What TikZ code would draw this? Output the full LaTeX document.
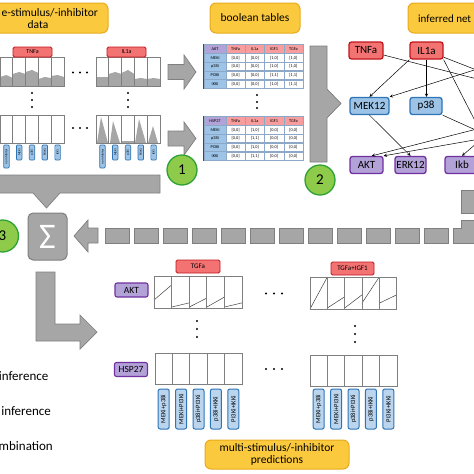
\documentclass[tikz,border=0pt]{standalone}
\usepackage{fontspec}
\setmainfont{Carlito}
\usepackage{tikz}
\usetikzlibrary{positioning,matrix}

\definecolor{yelfill}{HTML}{FBC93D}
\definecolor{yeldraw}{HTML}{E8AA1C}
\definecolor{redfill}{HTML}{F37373}
\definecolor{reddraw}{HTML}{C0161E}
\definecolor{bluefill}{HTML}{9DC3E6}
\definecolor{bluedraw}{HTML}{2E75B6}
\definecolor{purpfill}{HTML}{B3A2D7}
\definecolor{purpdraw}{HTML}{7030A0}
\definecolor{greyfill}{HTML}{A6A6A6}
\definecolor{greydraw}{HTML}{7F7F7F}
\definecolor{greenfill}{HTML}{8FCB4A}
\definecolor{greendraw}{HTML}{2FA236}
\definecolor{tabline}{HTML}{8EA9C8}

\tikzset{
  titlebox/.style={rounded corners=6pt, fill=yelfill, draw=yeldraw, line width=1pt, inner sep=0pt},
  titletext/.style={font=\fontsize{11.5}{12}\selectfont, inner sep=0pt},
  netnode/.style={rounded corners=2.5pt, line width=1.3pt, minimum height=17, inner sep=1pt, font=\fontsize{11}{12}\selectfont},
  netred/.style={netnode, fill=redfill, draw=reddraw},
  netblue/.style={netnode, fill=bluefill, draw=bluedraw},
  netpurp/.style={netnode, fill=purpfill, draw=purpdraw},
  netarrow/.style={->, >=stealth, line width=0.5pt},
  bigarrow/.style={fill=greyfill, draw=greydraw, line width=0.7pt},
  stepnum/.style={circle, fill=greenfill, draw=greendraw, line width=1.3pt, minimum size=30, inner sep=0pt, font=\fontsize{15}{15}\selectfont},
  panel/.style={draw=greydraw, line width=0.8pt},
  stimlabel/.style={rounded corners=1.5pt, fill=redfill, draw=reddraw, line width=0.9pt, minimum height=10, inner sep=0pt, font=\fontsize{6}{6}\selectfont},
  outlabel/.style={rounded corners=2pt, fill=purpfill, draw=purpdraw, line width=1.1pt, minimum height=14, minimum width=33, inner sep=0pt, font=\fontsize{9.5}{10}\selectfont},
  inhlabel/.style={rotate=90, rounded corners=1pt, fill=bluefill, draw=bluedraw, line width=0.7pt, minimum height=5.5, minimum width=15, inner sep=0pt, font=\fontsize{3.2}{3.2}\selectfont},
  combolabel/.style={rotate=90, rounded corners=2pt, fill=bluefill!70, draw=bluedraw, line width=1pt, minimum height=11, minimum width=40, inner sep=0pt, font=\fontsize{6.5}{6.5}\selectfont},
  booltab/.style={matrix of nodes, draw=bluedraw!70!black, line width=0.8pt, inner sep=0pt,
    column sep=-0.4pt, row sep=-0.4pt,
    nodes={draw=tabline, line width=0.4pt, minimum width=19.25, minimum height=8.6, inner sep=0pt, font=\fontsize{4.3}{4.3}\selectfont},
    row 1/.style={nodes={fill=redfill!70}},
    column 1/.style={nodes={fill=bluefill, minimum width=22}},
    row 1 column 1/.style={nodes={fill=purpfill}}},
  legtext/.style={anchor=base east, inner sep=0pt, font=\fontsize{13}{13}\selectfont}
}

\begin{document}
\begin{tikzpicture}[x=1pt, y=-1pt]
\clip (0,0) rectangle (474,474);

% titles
\node[titlebox, minimum width=118, minimum height=30] (dataTitle) at (49,18) {};
\node[titletext, anchor=base west] (dataTitleA) at (1.5,16.5) {e-stimulus/-inhibitor};
\node[titletext, anchor=base] (dataTitleB) at (38,28.5) {data};
\node[titlebox, titletext, minimum width=90, minimum height=30] (boolTitle) at (255,18) {boolean tables};
\node[titlebox, minimum width=92, minimum height=30] (netTitle) at (454,18) {};
\node[titletext, anchor=west, font=\fontsize{11}{12}\selectfont] (netTitleA) at (418,18.5) {inferred net};
\node[titlebox, titletext, minimum width=144, minimum height=29, align=center] (predTitle) at (277,454.5) {multi-stimulus/-inhibitor\\predictions};

% data panels
\foreach \i/\a/\b/\c in {0/77/75/78, 1/74/72/74, 2/72/70/73, 3/79/77/78, 4/76/75/77}
  \fill[greyfill] ({\i*12.8},86) -- ({\i*12.8},\a) -- ({\i*12.8+6.4},\b) -- ({\i*12.8+12.8},\c) -- ({\i*12.8+12.8},86) -- cycle;
\foreach \i/\a/\b/\c in {0/77/77/77, 1/74/72/74, 2/73/70/74, 3/79/78/79, 4/79/78/79}
  \fill[greyfill] ({96+\i*12.8},86) -- ({96+\i*12.8},\a) -- ({96+\i*12.8+6.4},\b) -- ({96+\i*12.8+12.8},\c) -- ({96+\i*12.8+12.8},86) -- cycle;
\foreach \l/\p/\r/\h in {97/101/108/117, 110/113/120/121, 135/139/146/119, 148/153/158/126}
  \fill[greyfill] (\l,143) -- (\p,\h) -- (\r,143) -- cycle;
\fill[greyfill] (121.6,141) rectangle (134.4,143);
\foreach \xo in {0,96}
  \foreach \i in {0,...,4}{
    \draw[panel] ({\xo+\i*12.8},57) rectangle ({\xo+(\i+1)*12.8},86);
    \draw[panel] ({\xo+\i*12.8},115) rectangle ({\xo+(\i+1)*12.8},143);
  }
\node[stimlabel, minimum width=39] (tnfLab) at (32.5,52) {TNFa};
\node[stimlabel, minimum width=39] (ilaLab) at (126.5,52) {IL1a};
\foreach \xo/\nm in {0/tnf,96/ila}{
  \node[inhlabel, minimum width=23] (\nm-in0) at ({\xo+6.4},156.5) {no inhibitor};
  \foreach \i/\t in {1/MEKi,2/p38i,3/PI3Ki,4/IKKi}
    \node[inhlabel] (\nm-in\i) at ({\xo+6.4+\i*12.8},152.5) {\t};
}
\foreach \y in {93,100,107}{
  \fill (32,\y) circle (1.1pt);
  \fill (128,\y) circle (1.1pt);
}
\foreach \x in {73,80,87}{
  \fill (\x,72.5) circle (1.1pt);
  \fill (\x,128) circle (1.1pt);
}

% arrows to the tables
\draw[bigarrow] (168,64.5) -- (184,64.5) -- (184,55) -- (196,72) -- (184,89) -- (184,79.5) -- (168,79.5) -- cycle;
\draw[bigarrow] (168,131) -- (184,131) -- (184,122) -- (196,138.5) -- (184,155) -- (184,146) -- (168,146) -- cycle;
\node[stepnum] (one) at (182,170) {1};

% boolean tables
\matrix (aktTab) [booltab] at (253.5,66.5) {
  AKT & TNFa & IL1a & IGF1 & TGFa \\
  MEKi & {[0,0]} & {[0,0]} & {[1,0]} & {[1,0]} \\
  p38i & {[0,0]} & {[0,0]} & {[1,0]} & {[1,0]} \\
  PI3Ki & {[0,0]} & {[0,0]} & {[1,1]} & {[1,1]} \\
  IKKi & {[0,0]} & {[0,0]} & {[1,0]} & {[1,1]} \\
};
\matrix (hspTab) [booltab] at (253.5,138.5) {
  HSP27 & TNFa & IL1a & IGF1 & TGFa \\
  MEKi & {[0,0]} & {[1,0]} & {[0,0]} & {[0,0]} \\
  p38i & {[0,0]} & {[1,1]} & {[0,0]} & {[0,0]} \\
  PI3Ki & {[0,0]} & {[1,0]} & {[0,0]} & {[0,0]} \\
  IKKi & {[0,0]} & {[1,1]} & {[0,0]} & {[0,0]} \\
};
\foreach \y in {95,102,108}
  \fill (257,\y) circle (1.1pt);

% arrow to the network
\draw[bigarrow] (310,46) -- (327,46) -- (327,89) -- (341,103.5) -- (327,118) -- (327,162) -- (310,162) -- cycle;
\node[stepnum] (two) at (320,180) {2};

% inferred network
\node[netred, minimum width=34] (TNFa) at (366,50.5) {TNFa};
\node[netred, minimum width=33] (IL1a) at (426.5,50.5) {IL1a};
\node[netblue, minimum width=39] (MEK12) at (369.5,106) {MEK12};
\node[netblue, minimum width=32] (p38) at (426,106) {p38};
\node[netpurp, minimum width=33] (AKT) at (366.5,165) {AKT};
\node[netpurp, minimum width=31] (ERK12) at (410.5,165) {ERK12};
\node[netpurp, minimum width=34] (Ikb) at (462,165) {Ikb};
\coordinate (hidA) at (520,90);
\coordinate (hidB) at (515,85);
\coordinate (hidC) at (490,150);
\coordinate (hidD) at (520,55.5);
\coordinate (hidE) at (520,150);
\coordinate (hidF) at (520,118);
\coordinate (hidG) at (520,132);
\coordinate (hidH) at (520,106);
\draw[netarrow] (TNFa) -- (hidA);
\draw[netarrow] (IL1a.south west) -- (MEK12.north);
\draw[netarrow] (IL1a.south) -- (IL1a.south |- p38.north);
\draw[netarrow] (IL1a) -- (hidB);
\draw[netarrow] (IL1a.south east) -- (hidC);
\draw[netarrow] (hidD) -- (MEK12.north east);
\draw[netarrow] (MEK12.south) -- (ERK12.north);
\draw[netarrow] (p38.south east) -- (hidE);
\draw[netarrow] (hidF) -- (AKT.60);
\draw[netarrow] (hidG) -- (AKT.north east);
\draw[netarrow] (hidH) -- (Ikb.north);

% combination
\draw[bigarrow] (-5,175) -- (160,175) -- (160,193) -- (60,193) -- (46.5,208) -- (33,193) -- (-5,193) -- cycle;
\node[rounded corners=5pt, fill=greyfill, draw=greydraw, line width=1pt, minimum width=39, minimum height=47, inner sep=0pt, text=white, font=\fontsize{36}{36}\selectfont] (sum) at (47.5,236.5) {Σ};
\node[stepnum, minimum size=32] (three) at (2.5,236) {3};
\draw[bigarrow] (74,236) -- (88,220) -- (88,228) -- (98,228) -- (98,243) -- (88,243) -- (88,252) -- cycle;
\foreach \k in {0,...,11}
  \draw[bigarrow] ({105+\k*29},228) rectangle ({129+\k*29},243);
\draw[bigarrow] (453,243) -- (453,228) -- (461,228) -- (461,220) -- (480,220) -- (480,243) -- cycle;
\draw[bigarrow] (461,190) rectangle (480,213);
\draw[bigarrow] (36,272) -- (55,272) -- (55,324) -- (80,324) -- (80,315) -- (97,332) -- (80,349) -- (80,341) -- (36,341) -- cycle;

% predictions
\node[outlabel] (aktOut) at (131.5,290) {AKT};
\node[outlabel] (hspOut) at (131,369.5) {HSP27};
\node[stimlabel, minimum width=44, minimum height=13, font=\fontsize{7}{7}\selectfont] (tgfLab) at (198,266.5) {TGFa};
\node[stimlabel, minimum width=43, minimum height=13, font=\fontsize{7}{7}\selectfont] (tgfigfLab) at (352.5,268.5) {TGFa+IGF1};
\foreach \i/\s/\e in {0/0.25/0.72, 1/0.03/0.16, 2/0.03/0.31, 3/0.03/0.34, 4/0.03/0.16}
  \draw[line width=0.5pt, black!75] ({154+\i*17.6},{308-\s*32}) -- ({154+(\i+1)*17.6},{308-\e*32});
\foreach \i/\s/\e in {0/0/1, 1/0.03/0.38, 2/0.03/0.44, 3/0.18/1, 4/0.18/0.44}
  \draw[line width=0.5pt, black!75] ({310+\i*17.3},{309-\s*32}) -- ({310+(\i+1)*17.3},{309-\e*32});
\foreach \i in {0,...,4}{
  \draw[panel] ({154+\i*17.6},276) rectangle ({154+(\i+1)*17.6},308);
  \draw[panel] ({310+\i*17.3},277) rectangle ({310+(\i+1)*17.3},309);
  \draw[panel] ({155+\i*17.4},353) rectangle ({155+(\i+1)*17.4},384);
  \draw[panel] ({310+\i*17.4},355) rectangle ({310+(\i+1)*17.4},386);
}
\foreach \xo/\nm in {155/lc,310/rc}
  \foreach \i/\t in {0/MEKi+p38i,1/MEKi+PI3Ki,2/p38i+PI3Ki,3/p38i+IKKi,4/PI3Ki+IKKi}
    \node[combolabel] (\nm\i) at ({\xo+8.7+\i*17.4},409) {\t};
\foreach \y in {321,329,337}
  \fill (197,\y) circle (1.1pt);
\foreach \y in {326,334,342}
  \fill (355,\y) circle (1.1pt);
\foreach \x in {266,274,282}{
  \fill (\x,293.5) circle (1.1pt);
  \fill (\x,369) circle (1.1pt);
}

% legend
\node[legtext] (legA) at (48.5,380.5) {inference};
\node[legtext] (legB) at (51,415.5) {inference};
\node[legtext] (legC) at (53,450.5) {mbination};
\end{tikzpicture}
\end{document}
